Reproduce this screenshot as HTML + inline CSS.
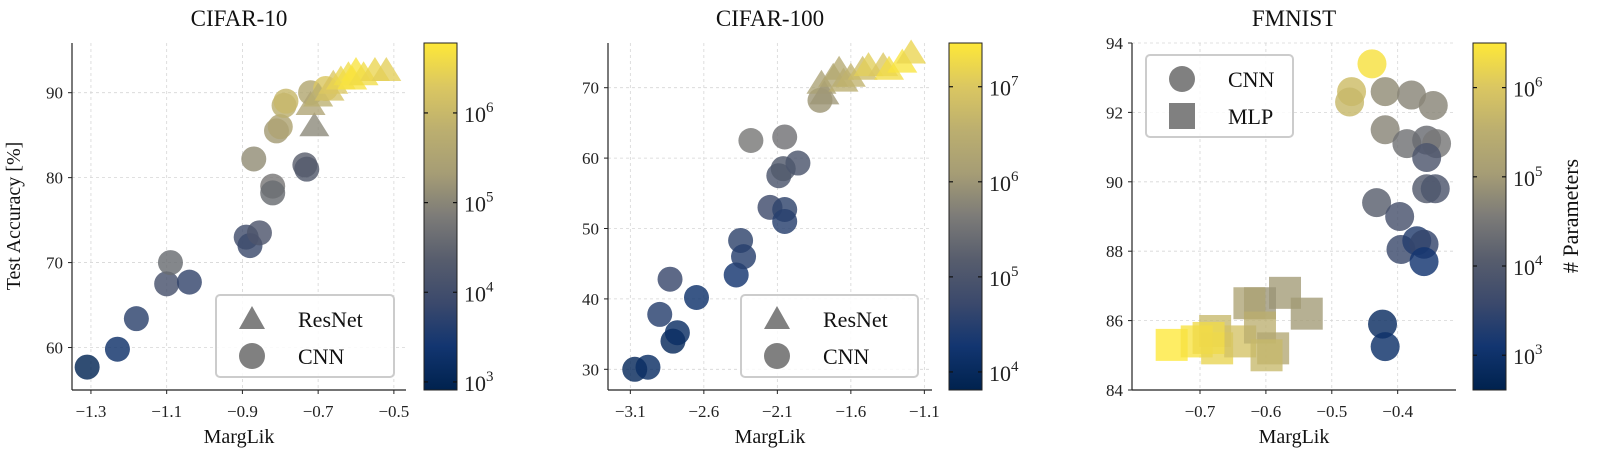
<!DOCTYPE html>
<html><head><meta charset="utf-8"><style>
body{margin:0;background:#fff}
svg{display:block;font-family:"Liberation Serif",serif}
</style></head><body>
<svg id="chart" width="1601" height="455" viewBox="0 0 1601 455" xmlns="http://www.w3.org/2000/svg">
<defs>
<linearGradient id="cividis" x1="0" y1="1" x2="0" y2="0">
<stop offset="0" stop-color="#00224e"/><stop offset="0.125" stop-color="#123570"/>
<stop offset="0.25" stop-color="#3b496c"/><stop offset="0.375" stop-color="#575d6d"/>
<stop offset="0.5" stop-color="#7c7b78"/><stop offset="0.625" stop-color="#a69d75"/>
<stop offset="0.75" stop-color="#bcaf6f"/><stop offset="0.875" stop-color="#dbc761"/>
<stop offset="1" stop-color="#fee838"/></linearGradient>
</defs>
</svg>
<script>
// Panel 1: CIFAR-10
const c10CnnX=[-1.31,-1.23,-1.18,-1.10,-1.09,-1.04,-0.89,-0.88,-0.855,-0.82,-0.82,-0.87,-0.81,-0.80,-0.79,-0.785,-0.735,-0.73,-0.72,-0.68];
const c10CnnY=[57.7,59.8,63.4,67.5,70.0,67.7,73.0,72.0,73.5,79.0,78.2,82.2,85.5,86.0,88.5,89.0,81.5,81.0,90.0,90.5];
const c10CnnP=[3.0,3.3,3.7,4.1,4.6,3.8,4.0,3.9,4.2,4.8,4.6,5.1,5.3,5.5,5.8,6.0,4.4,4.3,5.6,6.3];
const c10ResX=[-0.71,-0.72,-0.70,-0.67,-0.66,-0.64,-0.62,-0.61,-0.60,-0.58,-0.55,-0.52];
const c10ResY=[86.0,88.5,89.5,90.2,91.0,91.5,92.0,91.5,92.5,92.0,92.5,92.5];
const c10ResP=[5.0,5.5,5.8,6.2,6.3,6.5,6.6,6.7,6.7,6.6,6.5,6.4];
// Panel 2: CIFAR-100
const c100CnnX=[-3.07,-2.98,-2.90,-2.83,-2.81,-2.78,-2.65,-2.38,-2.35,-2.33,-2.28,-2.15,-2.05,-2.05,-2.09,-2.06,-1.96,-2.05,-1.81];
const c100CnnY=[30.0,30.3,37.8,42.8,34.0,35.2,40.2,43.4,48.3,46.0,62.5,53.0,52.7,51.0,57.5,58.5,59.3,63.0,68.2];
const c100CnnP=[4.0,4.1,4.5,4.7,4.0,4.1,4.2,4.3,4.6,4.5,5.6,4.8,4.6,4.5,5.0,5.1,5.0,5.5,6.0];
const c100ResX=[-1.80,-1.78,-1.72,-1.68,-1.65,-1.60,-1.52,-1.48,-1.38,-1.34,-1.25,-1.19];
const c100ResY=[70.5,69.0,71.5,72.5,70.8,71.5,72.5,73.0,73.0,72.5,73.5,74.8];
const c100ResP=[6.2,6.0,6.3,6.4,6.5,6.6,6.8,7.1,7.0,7.3,7.4,7.2];
// Panel 3: FMNIST
const fmCnnX=[-0.439,-0.470,-0.473,-0.419,-0.379,-0.346,-0.419,-0.386,-0.356,-0.341,-0.356,-0.356,-0.343,-0.432,-0.397,-0.395,-0.371,-0.360,-0.360,-0.423,-0.419];
const fmCnnY=[93.4,92.6,92.3,92.6,92.5,92.2,91.5,91.1,91.2,91.1,90.7,89.8,89.8,89.4,89.0,88.05,88.3,88.2,87.7,85.9,85.25];
const fmCnnP=[6.4,5.8,5.7,4.8,4.7,4.7,4.7,4.4,4.3,4.5,3.9,4.0,3.9,4.1,3.8,3.6,3.3,3.5,3.1,2.9,3.0];
const fmMlpX=[-0.571,-0.538,-0.609,-0.625,-0.677,-0.743,-0.705,-0.674,-0.639,-0.609,-0.589,-0.599,-0.687];
const fmMlpY=[86.8,86.2,86.5,86.5,85.7,85.3,85.4,85.2,85.4,85.8,85.2,85.0,85.5];
const fmMlpP=[5.0,5.0,4.9,5.2,5.7,6.6,6.4,6.2,5.9,5.5,5.3,5.7,6.3];
const c10XTicks=[-1.3,-1.1,-0.9,-0.7,-0.5], c10YTicks=[60,70,80,90], c10CTicks=[3,4,5,6];
const c100XTicks=[-3.1,-2.6,-2.1,-1.6,-1.1], c100YTicks=[30,40,50,60,70], c100CTicks=[4,5,6,7];
const fmXTicks=[-0.7,-0.6,-0.5,-0.4], fmYTicks=[84,86,88,90,92,94], fmCTicks=[3,4,5,6];

const NS="http://www.w3.org/2000/svg", svg=document.getElementById('chart');
function mk(tag,attrs,parent){const e=document.createElementNS(NS,tag);for(const k in attrs)e.setAttribute(k,attrs[k]);(parent||svg).appendChild(e);return e;}
const stops=[[0,[0,34,78]],[0.125,[18,53,112]],[0.25,[59,73,108]],[0.375,[87,93,109]],[0.5,[124,123,120]],[0.625,[166,157,117]],[0.75,[188,175,111]],[0.875,[219,199,97]],[1,[254,232,56]]];
function cmap(t){t=Math.max(0,Math.min(1,t));for(let i=1;i<stops.length;i++){if(t<=stops[i][0]){const a=stops[i-1],b=stops[i],f=(t-a[0])/(b[0]-a[0]);const c=a[1].map((v,j)=>Math.round(v+(b[1][j]-v)*f));return `rgb(${c})`;}}return 'rgb(254,232,56)';}
function fmt(v){return (v<0?'\u2212':'')+String(Math.abs(v));}

function panel(o){
  const g=mk('g',{});
  
  
  const sx=v=>o.L+(v-o.x0)/(o.x1-o.x0)*(o.R-o.L);
  const sy=v=>o.B-(v-o.y0)/(o.y1-o.y0)*(o.B-o.T);
  const sc=v=>(v-o.c0)/(o.c1-o.c0);
  o.xt.forEach(v=>{const l=mk('line',{x1:sx(v),x2:sx(v),y1:o.T,y2:o.B,stroke:'#d6d6d6','stroke-dasharray':'3,3','stroke-width':0.8},g);
    const t=mk('text',{x:sx(v),y:o.B+27,'text-anchor':'middle','font-size':17,fill:'#222'},g);t.textContent=fmt(v);
    mk('line',{x1:sx(v),x2:sx(v),y1:o.B,y2:o.B+4,stroke:'#222','stroke-width':1},g);});
  o.yt.forEach(v=>{const l=mk('line',{x1:o.L,x2:o.R,y1:sy(v),y2:sy(v),stroke:'#d6d6d6','stroke-dasharray':'3,3','stroke-width':0.8},g);
    const t=mk('text',{x:o.L-9,y:sy(v)+6,'text-anchor':'end','font-size':17,fill:'#222'},g);t.textContent=fmt(v);
    mk('line',{x1:o.L-4,x2:o.L,y1:sy(v),y2:sy(v),stroke:'#222','stroke-width':1},g);});
  o.series.forEach(s=>{
    s.x.forEach((xv,i)=>{
      const cx=sx(xv),cy=sy(s.y[i]),col=cmap(sc(s.p[i]));let e;
      if(s.m==='c')e=mk('circle',{cx:cx,cy:cy,r:s.r,fill:col,'fill-opacity':0.82},g);
      else if(s.m==='t'){const r=s.r;e=mk('polygon',{points:`${cx},${cy-r*1.2} ${cx-r*1.25},${cy+r*0.8} ${cx+r*1.25},${cy+r*0.8}`,fill:col,'fill-opacity':0.78},g);}
      else e=mk('rect',{x:cx-s.r,y:cy-s.r,width:2*s.r,height:2*s.r,fill:col,'fill-opacity':0.78},g);
      
      
    });
  });
  mk('line',{x1:o.L,x2:o.L,y1:o.T,y2:o.B,stroke:'#222','stroke-width':1.2},g);
  mk('line',{x1:o.L,x2:o.R,y1:o.B,y2:o.B,stroke:'#222','stroke-width':1.2},g);
  const ti=mk('text',{x:(o.L+o.R)/2,y:26,'text-anchor':'middle','font-size':23,fill:'#111'},g);ti.textContent=o.title;
  const xl=mk('text',{x:(o.L+o.R)/2,y:443,'text-anchor':'middle','font-size':20,fill:'#111'},g);xl.textContent='MargLik';
  const cb=mk('rect',{x:o.cbx,y:o.T,width:33,height:o.B-o.T,fill:'url(#cividis)',stroke:'#222','stroke-width':1},g);
  
  o.ct.forEach(v=>{const y=o.B-(v-o.c0)/(o.c1-o.c0)*(o.B-o.T);
    mk('line',{x1:o.cbx,x2:o.cbx+4,y1:y,y2:y,stroke:'#111','stroke-width':1.2},g);
    mk('line',{x1:o.cbx+29,x2:o.cbx+33,y1:y,y2:y,stroke:'#111','stroke-width':1.2},g);
    const t=mk('text',{x:o.cbx+40,y:y+9,'font-size':22,fill:'#222'},g);
    
    t.appendChild(document.createTextNode('10'));const sp=mk('tspan',{dy:-10,'font-size':15},t);sp.textContent=v;});
  const lg=mk('g',{},g);
  mk('rect',{x:o.lg[0],y:o.lg[1],width:o.lg[2],height:82,rx:4,fill:'#fff','fill-opacity':0.85,stroke:'#ccc','stroke-width':2},lg);
  o.leg.forEach((e,i)=>{const mx=o.lg[0]+36,my=o.lg[1]+24+i*37;let m;
    if(e[0]==='t')m=mk('polygon',{points:`${mx},${my-13} ${mx-13},${my+10} ${mx+13},${my+10}`,fill:'#808080'},lg);
    else if(e[0]==='c')m=mk('circle',{cx:mx,cy:my,r:13,fill:'#808080'},lg);
    else m=mk('rect',{x:mx-13,y:my-13,width:26,height:26,fill:'#808080'},lg);
    
    const t=mk('text',{x:o.lg[0]+82,y:my+8,'font-size':22,fill:'#111'},lg);t.textContent=e[1];});
}
panel({name:'cifar10-panel',title:'CIFAR-10',L:72,R:406,T:43,B:390,x0:-1.35,x1:-0.468,y0:55.0,y1:95.85,c0:2.91,c1:6.78,cbx:424,
  xt:c10XTicks,yt:c10YTicks,ct:c10CTicks,lg:[216,295,178],leg:[['t','ResNet'],['c','CNN']],
  series:[{m:'c',r:12.5,nm:'cnn',x:c10CnnX,y:c10CnnY,p:c10CnnP},{m:'t',r:12,nm:'resnet',x:c10ResX,y:c10ResY,p:c10ResP}]});
panel({name:'cifar100-panel',title:'CIFAR-100',L:608,R:932,T:43,B:390,x0:-3.252,x1:-1.048,y0:27.06,y1:76.35,c0:3.81,c1:7.46,cbx:949,
  xt:c100XTicks,yt:c100YTicks,ct:c100CTicks,lg:[741,295,177],leg:[['t','ResNet'],['c','CNN']],
  series:[{m:'c',r:12.5,nm:'cnn',x:c100CnnX,y:c100CnnY,p:c100CnnP},{m:'t',r:12,nm:'resnet',x:c100ResX,y:c100ResY,p:c100ResP}]});
panel({name:'fmnist-panel',title:'FMNIST',L:1132,R:1456,T:43,B:390,x0:-0.8032,x1:-0.3115,y0:84,y1:94,c0:2.61,c1:6.5,cbx:1473,
  xt:fmXTicks,yt:fmYTicks,ct:fmCTicks,lg:[1146,55,147],leg:[['c','CNN'],['s','MLP']],
  series:[{m:'s',r:16,nm:'mlp',x:fmMlpX,y:fmMlpY,p:fmMlpP},{m:'c',r:14.5,nm:'cnn',x:fmCnnX,y:fmCnnY,p:fmCnnP}]});
const yl=mk('text',{x:0,y:0,transform:'translate(20,216) rotate(-90)','text-anchor':'middle','font-size':20,fill:'#111'});
yl.textContent='Test Accuracy [%]';


const cl=mk('text',{x:0,y:0,transform:'translate(1578,216) rotate(-90)','text-anchor':'middle','font-size':22,fill:'#111'});
cl.textContent='# Parameters';


</script>
</body></html>
